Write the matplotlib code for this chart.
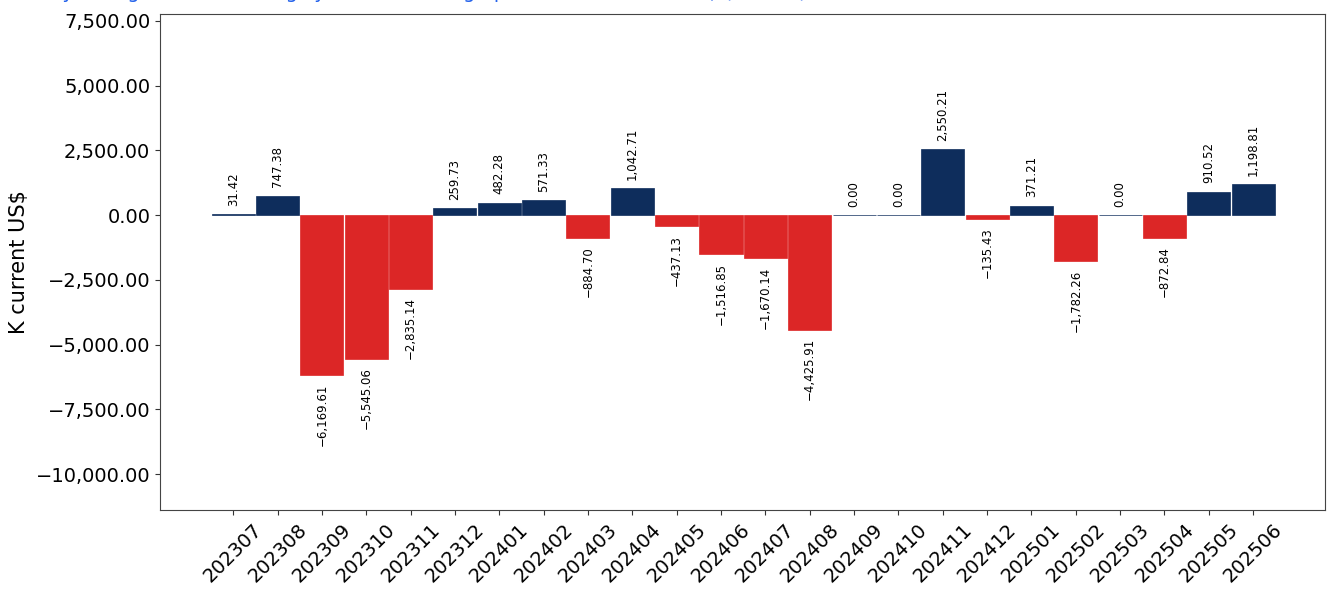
import numpy as np
import matplotlib
matplotlib.use("Agg")
import matplotlib.pyplot as plt
from matplotlib.ticker import FuncFormatter

# monthly values, K current US$
months = ["202307", "202308", "202309", "202310", "202311", "202312",
          "202401", "202402", "202403", "202404", "202405", "202406",
          "202407", "202408", "202409", "202410", "202411", "202412",
          "202501", "202502", "202503", "202504", "202505", "202506"]
values = [31.42, 747.38, -6169.61, -5545.06, -2835.14, 259.73,
          482.28, 571.33, -884.70, 1042.71, -437.13, -1516.85,
          -1670.14, -4425.91, 0.00, 0.00, 2550.21, -135.43,
          371.21, -1782.26, 0.00, -872.84, 910.52, 1198.81]

title_text = "Monthly change in the banking system net foreign position, K current US$ (Source)"

NAVY = "#0e2d5c"
RED = "#dc2626"

fig = plt.figure(figsize=(13.28, 5.89), dpi=100)
ax = fig.add_axes([160 / 1328, 1 - 510 / 589, 1165 / 1328, 496 / 589])

x = np.arange(len(months))
colors = [NAVY if v >= 0 else RED for v in values]
ax.bar(x, values, width=0.97, color=colors, edgecolor=colors, linewidth=0.5)

for xi, v in zip(x, values):
    off = 6 if v >= 0 else -6
    ax.annotate(f"{v:,.2f}".replace("-", "\u2212"), (xi, v), xytext=(0, off),
                textcoords="offset points", rotation=90, ha="center",
                va="bottom" if v >= 0 else "top", fontsize=8.5)

ax.set_xlim(-1.65, 24.62)
ax.set_ylim(-11390, 7770)
ax.set_yticks(np.arange(-10000, 7501, 2500))
ax.yaxis.set_major_formatter(FuncFormatter(lambda v, p: f"{v:,.2f}".replace("-", "\u2212")))
ax.set_xticks(x)
ax.set_xticklabels(months, rotation=45, fontsize=14)
ax.tick_params(axis="y", labelsize=14)
ax.tick_params(colors="#333333", labelcolor="black")
ax.set_ylabel("K current US$", fontsize=15, labelpad=5)

for s in ax.spines.values():
    s.set_color("#444444")

# title sits mostly above the canvas edge, as in the source
fig.text(-0.003, 1 + 2.5 / 589, title_text, color="#2563eb", fontsize=14,
         va="baseline", ha="left")

fig.savefig("out.png", dpi=100)
